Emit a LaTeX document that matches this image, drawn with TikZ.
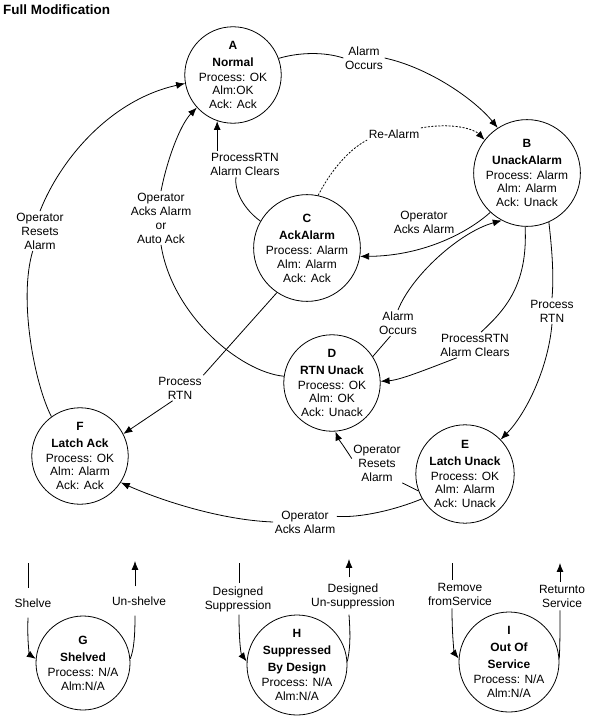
\documentclass[tikz,border=0pt]{standalone}
\usepackage{fontspec}
\setmainfont{Liberation Sans}
\setsansfont{Liberation Sans}
\usetikzlibrary{arrows.meta}
\begin{document}
\begin{tikzpicture}[x = 1bp, y = -1bp, font=\sffamily]
\tikzstyle{stateStyle} = [shape = circle, draw, line width = 0.8pt, minimum size = 92bp, inner sep = 0pt, align = center, font = \sffamily\fontsize{12}{14}\selectfont]
\tikzstyle{labelStyle} = [align = center, inner sep = 1.5pt, font = \sffamily\fontsize{12}{14}\selectfont]
\tikzstyle{loopLabelStyle} = [align = center, inner xsep = 1.5pt, inner ysep = 3pt, font = \sffamily\fontsize{12}{14}\selectfont]
\tikzstyle{lineStyle} = [line width = 0.8pt]
\tikzstyle{arrowStyle} = [line width = 0.8pt, -{Latex[length = 9pt, width = 7pt]}]
\tikzstyle{dashStyle} = [dash pattern = on 2pt off 1.5pt]
\tikzstyle{titleStyle} = [anchor = west, inner sep = 0pt, font = \sffamily\bfseries\fontsize{13.5}{16}\selectfont]
\useasboundingbox (0, 0) rectangle (592, 721);
\node[titleStyle] (title) at (3, 10) {Full Modification};
\node[stateStyle] (vA) at (233, 75) {\textbf{A}\\[3pt] \textbf{Normal}\\[1pt] Process: OK\\ Alm:OK\\ Ack: Ack};
\node[stateStyle] (vB) at (527, 173) {\textbf{B}\\[3pt] \textbf{UnackAlarm}\\[1pt] Process: Alarm\\ Alm: Alarm\\ Ack: Unack};
\node[stateStyle, minimum size = 90bp] (vC) at (307, 248) {\textbf{C}\\[3pt] \textbf{AckAlarm}\\[1pt] Process: Alarm\\ Alm: Alarm\\ Ack: Ack};
\node[stateStyle] (vD) at (332, 383) {\textbf{D}\\[3pt] \textbf{RTN Unack}\\[1pt] Process: OK\\ Alm: OK\\ Ack: Unack};
\node[stateStyle] (vE) at (465, 474) {\textbf{E}\\[3pt] \textbf{Latch Unack}\\[1pt] Process: OK\\ Alm: Alarm\\ Ack: Unack};
\node[stateStyle] (vF) at (80, 456) {\textbf{F}\\[3pt] \textbf{Latch Ack}\\[1pt] Process: OK\\ Alm: Alarm\\ Ack: Ack};
\node[stateStyle, minimum size = 94bp] (vG) at (83, 663) {\textbf{G}\\[3pt] \textbf{Shelved}\\[1pt] Process: N/A\\ Alm:N/A};
\node[stateStyle, minimum size = 100bp] (vH) at (297, 665) {\textbf{H}\\[3pt] \textbf{Suppressed}\\[3pt] \textbf{By Design}\\[1pt] Process: N/A\\ Alm:N/A};
\node[stateStyle, minimum size = 96bp] (vI) at (509, 662) {\textbf{I}\\[3pt] \textbf{Out Of}\\[3pt] \textbf{Service}\\[1pt] Process: N/A\\ Alm:N/A};
\node[labelStyle] (lAB) at (364, 58) {Alarm\\ Occurs};
\node[labelStyle] (lCB) at (394, 134) {Re-Alarm};
\node[labelStyle] (lBC) at (424, 222) {Operator\\ Acks Alarm};
\node[labelStyle] (lDB) at (398, 323) {Alarm\\ Occurs};
\node[labelStyle] (lBD) at (475, 345) {ProcessRTN\\ Alarm Clears};
\node[labelStyle] (lBE) at (552, 311) {Process\\ RTN};
\node[labelStyle] (lCA) at (245, 164) {ProcessRTN\\ Alarm Clears};
\node[labelStyle] (lDA) at (161, 218) {Operator\\ Acks Alarm\\ or\\ Auto Ack};
\node[labelStyle] (lFA) at (40, 231) {Operator\\ Resets\\ Alarm};
\node[labelStyle] (lCF) at (180, 388) {Process\\ RTN};
\node[labelStyle] (lED) at (377, 463) {Operator\\ Resets\\ Alarm};
\node[labelStyle] (lEF) at (305, 522) {Operator\\ Acks Alarm};
\node[loopLabelStyle, inner ysep = 10pt] (lShelve) at (33, 603) {Shelve};
\node[loopLabelStyle, inner ysep = 10pt] (lUnshelve) at (139, 601) {Un-shelve};
\node[loopLabelStyle] (lDesSup) at (238, 599) {Designed\\ Suppression};
\node[loopLabelStyle, inner ysep = 6pt] (lDesUnsup) at (353, 596) {Designed\\ Un-suppression};
\node[loopLabelStyle] (lRemove) at (460, 594) {Remove\\ fromService};
\node[loopLabelStyle] (lReturn) at (562, 596) {Returnto\\ Service};
\coordinate (gInTop) at (28, 563);
\coordinate (gOutTop) at (135, 561);
\coordinate (hInTop) at (239, 563);
\coordinate (hOutTop) at (349, 559);
\coordinate (iInTop) at (452, 563);
\coordinate (iOutTop) at (560, 563);
\draw[lineStyle] (vA.20) .. controls (300, 52) and (325, 52) .. (lAB.west);
\draw[arrowStyle] (lAB.east) .. controls (430, 68) and (475, 100) .. (vB.123);
\draw[lineStyle, dashStyle] (vC.78) .. controls (330, 172) and (348, 150) .. (lCB.south west);
\draw[arrowStyle, dashStyle] (lCB.north east) .. controls (455, 122) and (475, 130) .. (vB.142);
\draw[arrowStyle] (vB.227) .. controls (465, 235) and (420, 256) .. (vC.351);
\draw[lineStyle] (vD.33) -- (lDB.240);
\draw[arrowStyle] (lDB.north) .. controls (412, 275) and (460, 232) .. (vB.242);
\draw[lineStyle] (vB.268) .. controls (528, 285) and (505, 310) .. (lBD.65);
\draw[arrowStyle] (lBD.215) .. controls (425, 370) and (400, 380) .. (vD.2);
\draw[lineStyle] (vB.294) .. controls (552, 250) and (554, 275) .. (lBE.north);
\draw[arrowStyle] (lBE.south) .. controls (548, 370) and (525, 415) .. (vE.44);
\draw[lineStyle] (vC.150) .. controls (245, 210) and (234, 192) .. (lCA.235);
\draw[arrowStyle] (vA.251 |- lCA.north) -- (vA.251);
\draw[lineStyle] (vD.172) .. controls (240, 372) and (172, 315) .. (lDA.south);
\draw[arrowStyle] (lDA.north) .. controls (167, 160) and (180, 125) .. (vA.222);
\draw[lineStyle] (vF.126) .. controls (35, 385) and (18, 300) .. (lFA.250);
\draw[arrowStyle] (lFA.north) .. controls (60, 160) and (110, 100) .. (vA.190);
\draw[lineStyle] (vC.236) -- (lCF.north east);
\draw[arrowStyle] (lCF.240) -- (vF.27);
\draw[lineStyle] (vE.200) -- (lED.south east);
\draw[arrowStyle] (lED.170) .. controls (345, 448) and (338, 438) .. (vD.274);
\draw[lineStyle] (vE.210) .. controls (395, 510) and (360, 518) .. (lEF.10);
\draw[arrowStyle] (lEF.west) .. controls (220, 520) and (160, 500) .. (vF.327);
\draw[lineStyle] (gInTop) -- (gInTop |- lShelve.north);
\draw[arrowStyle] (gInTop |- lShelve.south) .. controls (27, 645) and (30, 655) .. (vG.175);
\draw[lineStyle] (vG.5) .. controls (134, 650) and (135, 635) .. (gOutTop |- lUnshelve.south);
\draw[arrowStyle] (gOutTop |- lUnshelve.north) -- (gOutTop);
\draw[lineStyle] (hInTop) -- (hInTop |- lDesSup.north);
\draw[arrowStyle] (hInTop |- lDesSup.south) .. controls (239, 642) and (241, 654) .. (vH.176);
\draw[lineStyle] (vH.4) .. controls (351, 645) and (350, 630) .. (hOutTop |- lDesUnsup.south);
\draw[arrowStyle] (hOutTop |- lDesUnsup.north) -- (hOutTop);
\draw[lineStyle] (iInTop) -- (iInTop |- lRemove.north);
\draw[arrowStyle] (iInTop |- lRemove.south) .. controls (452, 642) and (455, 654) .. (vI.176);
\draw[lineStyle] (vI.4) .. controls (560, 645) and (560, 630) .. (iOutTop |- lReturn.south);
\draw[arrowStyle] (iOutTop |- lReturn.north) -- (iOutTop);
\end{tikzpicture}
\end{document}
